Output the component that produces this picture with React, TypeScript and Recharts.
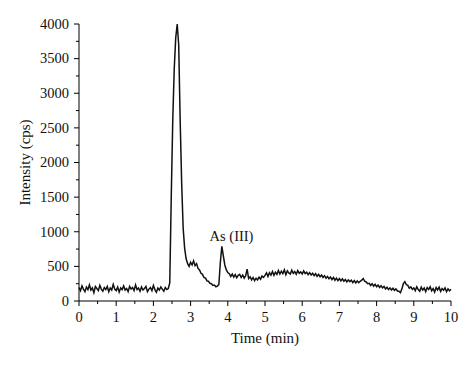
import { LineChart, Line, XAxis, YAxis, ReferenceDot, Label } from "recharts"

// sampling interval of the trace (min)
const step = 0.04

// intensity (cps), segment by segment
const baseline = [
  195, 150, 218, 172, 135, 202, 165, 232, 158, 188,
  120, 210, 180, 150, 225, 172, 142, 195, 165, 210,
  135, 188, 158, 240, 172, 150, 202, 128, 188, 165,
  218, 158, 180, 135, 210, 172, 195, 150, 232, 165,
  188, 142, 202, 158, 180, 210, 135, 172, 195, 150,
  225, 165, 128, 188, 158, 202, 172, 142, 195, 165,
  180,
]
const mainPeak = [260, 1500, 2600, 3350, 3800, 4000, 3700, 2600, 1700, 1050, 760, 610]
const shoulder = [
  540, 500, 560, 520, 580, 510, 540, 470, 450, 400,
  385, 340, 330, 290, 285, 255, 250, 225, 230, 205,
  215, 240,
]
const as3Peak = [560, 790, 650, 520, 450, 410]
const afterAs = [
  395, 355, 390, 345, 380, 335, 370, 385, 340, 375,
  330, 365, 460, 325, 350, 305, 340, 295, 330, 305,
  345, 315, 360, 340,
]
const hump = [
  370, 405, 355, 410, 375, 425, 370, 415, 385, 440,
  390, 430, 395, 450, 380, 435, 405, 390, 445, 400,
  425, 385, 440, 400, 420, 390, 435, 395, 415, 380,
  410, 375, 400, 365, 395, 355, 385, 350, 375, 340,
  365, 330, 355, 320, 345, 310, 340, 300, 330, 295,
]
const tail = [
  325, 290, 320, 285, 310, 275, 305, 280, 300, 265,
  295, 260, 290, 265, 285, 300, 325, 285, 275, 250,
  255, 225, 250, 215, 240, 205, 230, 195, 220, 190,
  210, 175, 200, 165, 190, 160, 185, 155, 175, 145,
  140, 120, 175, 250, 280, 235, 225, 185, 205, 170,
]
const end = [
  190, 150, 205, 165, 140, 200, 158, 188, 135, 195,
  168, 205, 148, 180, 128, 195, 160, 200, 140, 180,
  155, 190, 135, 175, 148, 170,
]

const xMajorTicks = [0, 1, 2, 3, 4, 5, 6, 7, 8, 9, 10]
const xMinorTicks = [0.5, 1.5, 2.5, 3.5, 4.5, 5.5, 6.5, 7.5, 8.5, 9.5]
const yMajorTicks = [0, 500, 1000, 1500, 2000, 2500, 3000, 3500, 4000]
const yMinorTicks = [250, 750, 1250, 1750, 2250, 2750, 3250, 3750]

const intensity = [...baseline, ...mainPeak, ...shoulder, ...as3Peak, ...afterAs, ...hump, ...tail, ...end]
const data = intensity.map((value, i) => ({ time: +(i * step).toFixed(2), value }))

const font = "'Liberation Serif', 'Times New Roman', serif"

const XTick = (props: any) => {
  const { x, y, payload } = props
  const major = xMajorTicks.includes(payload.value)
  return (
    <g>
      <line x1={x} x2={x} y1={y} y2={y + (major ? 5 : 3)} stroke="#000" strokeWidth={1} />
      {major && (
        <text x={x} y={y + 21} textAnchor="middle" fontSize={14.5} fontFamily={font} fill="#111">
          {payload.value}
        </text>
      )}
    </g>
  )
}

const YTick = (props: any) => {
  const { x, y, payload } = props
  const major = yMajorTicks.includes(payload.value)
  return (
    <g>
      <line x1={x - (major ? 5 : 3)} x2={x} y1={y} y2={y} stroke="#000" strokeWidth={1} />
      {major && (
        <text x={x - 10} y={y + 4.8} textAnchor="end" fontSize={14.5} fontFamily={font} fill="#111">
          {payload.value}
        </text>
      )}
    </g>
  )
}

const YTitle = (props: any) => {
  const vb = props.viewBox
  const x = vb.x + 11
  const y = vb.y + vb.height / 2
  return (
    <text x={x} y={y} transform={`rotate(-90, ${x}, ${y})`} textAnchor="middle" fontSize={15} fontFamily={font} fill="#111">
      Intensity (cps)
    </text>
  )
}

export default function App() {
  return (
    <div style={{ width: 466, height: 350 }}>
      <LineChart width={466} height={350} data={data} margin={{ top: 16, right: 23, left: 11, bottom: 7 }}>
        <XAxis
          dataKey="time"
          type="number"
          domain={[0, 10]}
          ticks={[...xMajorTicks, ...xMinorTicks].sort((a, b) => a - b)}
          interval={0}
          tickSize={0}
          tickMargin={0}
          tick={<XTick />}
          axisLine={{ stroke: "#000", strokeWidth: 1 }}
          height={50}
        >
          <Label value="Time (min)" position="insideBottom" offset={8} fontSize={15} fontFamily={font} fill="#111" />
        </XAxis>
        <YAxis
          type="number"
          domain={[0, 4000]}
          ticks={[...yMajorTicks, ...yMinorTicks].sort((a, b) => a - b)}
          interval={0}
          tickSize={0}
          tickMargin={0}
          tick={<YTick />}
          axisLine={{ stroke: "#000", strokeWidth: 1 }}
          width={60}
        >
          <Label content={<YTitle />} />
        </YAxis>
        <Line
          type="linear"
          dataKey="value"
          stroke="#111"
          strokeWidth={1.5}
          dot={false}
          isAnimationActive={false}
        />
        <ReferenceDot x={4.1} y={790} r={0} fill="none" stroke="none">
          <Label value="As (III)" position="top" offset={5} fontSize={14.5} fontFamily={font} fill="#111" />
        </ReferenceDot>
      </LineChart>
    </div>
  )
}
